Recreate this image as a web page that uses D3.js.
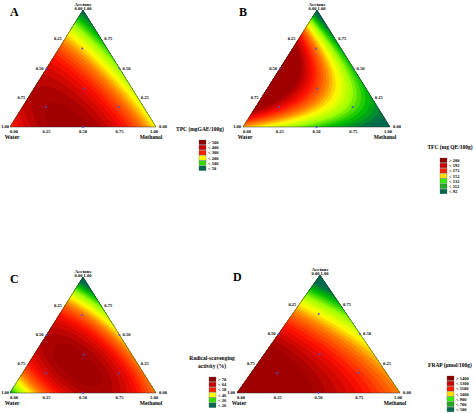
<!DOCTYPE html><html><head><meta charset="utf-8">
<script src="https://cdn.jsdelivr.net/npm/d3@7"></script>
<style>body{margin:0;background:#fff}text{font-family:"Liberation Serif",serif;font-weight:bold}</style></head><body>
<svg id="s" width="474" height="413"></svg>
<script>
const coefA=[400,40,260,950,750,150];
const coefB=[150,80,85,480,-20,110];
const coefC=[30,18,52,180,110,50];
const coefD=[1500,350,1050,1600,500,700];
const legA=["> 500","< 400","< 300","< 200","< 100","< 50"];
const legB=["> 200","< 192","< 172","< 152","< 132","< 112","< 92"];
const legC=["> 70","< 64","< 58","< 46","< 36","< 26"];
const legD=["> 1400","< 1300","< 1100","< 1000","< 900","< 700","< 500"];
const legColors6=["#8b0000","#cc0000","#ff2000","#ffff00","#33dd00","#006a4e"];
const legColors7=["#8b0000","#cc0000","#ff2000","#ffdd00","#33ee00","#22aa22","#006a4e"];
const ticks=["0.25","0.50","0.75"];
const designPts=[[1,0,0],[0,1,0],[0,0,1],[.5,.5,0],[.5,0,.5],[0,.5,.5],[.33,.33,.34],[.67,.17,.16],[.17,.67,.16],[.17,.17,.66]];

const svg=d3.select("#s");
const panels=[
 {L:"A",coef:coefA,top:[83,10],left:[10,127],right:[156,127],dom:[50,500],leg:legA,cols:legColors6,title:["TPC (mgGAE/100g)"],lx:199,ly:140,tx:200},
 {L:"B",coef:coefB,top:[317,10],left:[243,127],right:[390,127],dom:[92,200],leg:legB,cols:legColors7,title:["TFC (mg QE/100g)"],lx:440,ly:158,tx:450},
 {L:"C",coef:coefC,top:[83,277],left:[10,393],right:[156,393],dom:[24,70],leg:legC,cols:legColors6,title:["Radical-scavenging","activity (%)"],lx:209,ly:377,tx:212},
 {L:"D",coef:coefD,top:[320,275],left:[237,393],right:[400,393],dom:[500,1400],leg:legD,cols:legColors7,title:["FRAP (\u03bcmol/100g)"],lx:447,ly:376,tx:450}
];
const cs=d3.scaleLinear().domain([0,.15,.3,.45,.6,.8,1]).range(["#006a4e","#00c000","#a0ff00","#ffff00","#ff8000","#ff1000","#a00000"]).clamp(true);
panels.forEach((p,pi)=>{
 const [T,Lp,R]=[p.top,p.left,p.right];
 const x0=Lp[0],y0=T[1],W=R[0]-Lp[0],H=Lp[1]-T[1];
 const n=120,m=100;
 const det=(Lp[0]-R[0])*(T[1]-R[1])-(T[0]-R[0])*(Lp[1]-R[1]);
 const vals=new Array(n*m);
 for(let j=0;j<m;j++)for(let i=0;i<n;i++){
  const X=x0+W*i/(n-1),Y=y0+H*j/(m-1);
  let w=((X-R[0])*(T[1]-R[1])-(T[0]-R[0])*(Y-R[1]))/det;
  let a=((Lp[0]-R[0])*(Y-R[1])-(X-R[0])*(Lp[1]-R[1]))/det;
  w=Math.max(0,Math.min(1,w));a=Math.max(0,Math.min(1,a));let mm=Math.max(0,1-w-a);
  const c=p.coef;
  vals[j*n+i]=c[0]*w+c[1]*a+c[2]*mm+c[3]*w*a+c[4]*w*mm+c[5]*a*mm;
 }
 const sc=d3.scaleLinear().domain(p.dom);
 const th=d3.range(0,41).map(k=>p.dom[0]-0.3*(p.dom[1]-p.dom[0])+k*(1.6*(p.dom[1]-p.dom[0]))/40);
 const cont=d3.contours().size([n,m]).thresholds(th)(vals);
 const clipId="c"+pi;
 svg.append("clipPath").attr("id",clipId).append("polygon").attr("points",[T,Lp,R].map(d=>d.join(",")).join(" "));
 const g=svg.append("g").attr("clip-path",`url(#${clipId})`);
 const tr=d3.geoTransform({point:function(x,y){this.stream.point(x0+W*x/(n-1),y0+H*y/(m-1));}});
 const path=d3.geoPath(tr);
 g.selectAll("path").data(cont).join("path").attr("d",path).attr("fill",d=>cs(sc(d.value))).attr("stroke",d=>cs(sc(d.value))).attr("stroke-width",0.5);
 svg.append("polygon").attr("points",[T,Lp,R].map(d=>d.join(",")).join(" ")).attr("fill","none").attr("stroke","#333").attr("stroke-width",0.5);
 const bp=(w,a,mm)=>[w*Lp[0]+a*T[0]+mm*R[0],w*Lp[1]+a*T[1]+mm*R[1]];
 designPts.slice(3).forEach(d=>{const q=bp(...d);svg.append("circle").attr("cx",q[0]).attr("cy",q[1]).attr("r",1).attr("fill","#5050c0");});
 const txt=(x,y,s,fs,anc)=>svg.append("text").attr("x",x).attr("y",y).attr("font-size",fs).attr("text-anchor",anc||"middle").text(s);
 txt(T[0],T[1]-4,"Acetone",5);txt(T[0],T[1]+0,"0.00   1.00",4.5);
 txt(Lp[0]+2,Lp[1]+12,"Water",5.5);txt(R[0]-5,R[1]+12,"Methanol",5.5);
 txt(Math.max(Lp[0]-2,9),Lp[1]+1,"1.00",4.5,"end");txt(Lp[0]+4,Lp[1]+6,"0.00",4.5);
 txt(R[0]+3,R[1]+1,"0.00",4.5,"start");txt(R[0]-2,R[1]+6,"1.00",4.5);
 [.25,.5,.75].forEach((t,k)=>{
  const ql=bp(1-t,t,0);txt(ql[0]-3,ql[1]+1,ticks[2-k],4.5,"end");
  const qr=bp(0,t,1-t);txt(qr[0]+3,qr[1]+1,ticks[k],4.5,"start");
  const qb=bp(1-t,0,t);txt(qb[0],qb[1]+6,ticks[k],4.5);
 });
 svg.append("text").attr("x",Lp[0]+(pi%2?-4:0)).attr("y",T[1]+6).attr("font-size",12).text(p.L);
 p.title.forEach((s,k)=>txt(p.tx,p.ly-9-(p.title.length-1-k)*8,s,5.5));
 p.leg.forEach((s,k)=>{
  svg.append("rect").attr("x",p.lx).attr("y",p.ly+k*5.2).attr("width",7).attr("height",4.6).attr("fill",p.cols[k]).attr("stroke","#555").attr("stroke-width",0.3);
  txt(p.lx+9,p.ly+k*5.2+4,s,4.5,"start");
 });
});
</script></body></html>
